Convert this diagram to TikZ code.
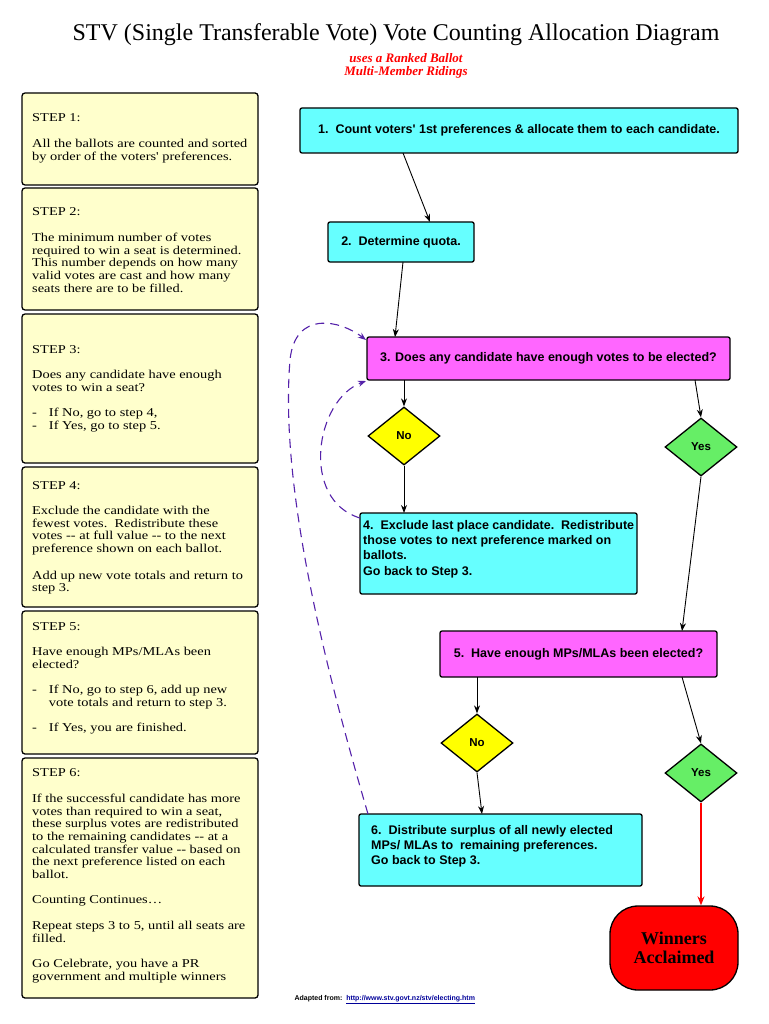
\documentclass[tikz,border=0pt]{standalone}
\usepackage{fontspec}
\setmainfont{Liberation Serif}
\newfontfamily\sansf{Liberation Sans}
\newfontfamily\widef[FakeStretch=1.2]{Liberation Serif}
\usetikzlibrary{shapes.geometric,arrows.meta}
\definecolor{cy}{HTML}{66FFFF}
\definecolor{mg}{HTML}{FF66FF}
\definecolor{yl}{HTML}{FFFF00}
\definecolor{gr}{HTML}{66EE66}
\definecolor{pale}{HTML}{FFFFCC}
\definecolor{purp}{HTML}{5522AA}
\begin{document}
\begin{tikzpicture}[x=1pt,y=-1pt,
 stepbox/.style={anchor=north west,align=left,inner sep=0pt,font=\widef\fontsize{12}{12.6}\selectfont},
 proc/.style={draw,line width=1.3pt,rounded corners=2pt,fill=cy,font=\sansf\bfseries\fontsize{12.5}{13}\selectfont},
 dec/.style={draw,line width=1.3pt,fill=mg,font=\sansf\bfseries\fontsize{12.5}{13}\selectfont},
 dia/.style={draw,line width=1.3pt,diamond,minimum width=72pt,minimum height=58pt,inner sep=0pt,aspect=1.25,font=\sansf\bfseries\fontsize{11.5}{12}\selectfont},
 arr/.style={-{Stealth[length=8pt,width=6pt]},line width=0.9pt},
 dsh/.style={-{Stealth[length=8pt,width=6pt]},line width=1.1pt,purp,dash pattern=on 9pt off 6pt}]
\useasboundingbox (0,0) rectangle (768,1024);
\node[font=\fontsize{24}{26}\selectfont] (title) at (396,35) {STV (Single Transferable Vote) Vote Counting Allocation Diagram};
\node[font=\bfseries\itshape\fontsize{13}{13.5}\selectfont,text=red,align=center] (sub) at (406,66) {uses a Ranked Ballot\\Multi-Member Ridings};

% left step boxes
\foreach \t/\b in {93/185,188/310,314/463,467/607,611/754,758/998}{
  \draw[line width=1.3pt,rounded corners=3pt,fill=pale] (22,\t) rectangle (258,\b);}
\node[stepbox] (s1) at (32,113) {STEP 1:\\[14pt]All the ballots are counted and sorted\\by order of the voters' preferences.};
\node[stepbox] (s2) at (32,207) {STEP 2:\\[14pt]The minimum number of votes\\required to win a seat is determined.\\This number depends on how many\\valid votes are cast and how many\\seats there are to be filled.};
\node[stepbox] (s3) at (32,345) {STEP 3:\\[13pt]Does any candidate have enough\\votes to win a seat?\\[13pt]-\quad If No, go to step 4,\\-\quad If Yes, go to step 5.};
\node[stepbox] (s4) at (32,481) {STEP 4:\\[13pt]Exclude the candidate with the\\fewest votes.\ \ Redistribute these\\votes -- at full value -- to the next\\preference shown on each ballot.\\[14pt]Add up new vote totals and return to\\step 3.};
\node[stepbox] (s5) at (32,622) {STEP 5:\\[13pt]Have enough MPs/MLAs been\\elected?\\[13pt]-\quad If No, go to step 6, add up new\\\phantom{-}\quad vote totals and return to step 3.\\[12pt]-\quad If Yes, you are finished.};
\node[stepbox] (s6) at (32,768) {STEP 6:\\[14pt]If the successful candidate has more\\votes than required to win a seat,\\these surplus votes are redistributed\\to the remaining candidates -- at a\\calculated transfer value -- based on\\the next preference listed on each\\ballot.\\[13pt]Counting Continues\dots\\[13pt]Repeat steps 3 to 5, until all seats are\\filled.\\[13pt]Go Celebrate, you have a PR\\government and multiple winners};

% flow
\node[proc,minimum width=438pt,minimum height=45pt] (p1) at (519,130.5) {1.\ \ Count voters' 1st preferences \& allocate them to each candidate.};
\node[proc,minimum width=146pt,minimum height=40pt] (p2) at (401,242) {2.\ \ Determine quota.};
\node[dec,rounded corners=2pt,minimum width=363pt,minimum height=43pt] (p3) at (548.5,358.5) {3. Does any candidate have enough votes to be elected?};
\node[dia,fill=yl] (no1) at (404,436) {No};
\node[dia,fill=gr] (yes1) at (701,447) {Yes};
\draw[line width=1.3pt,rounded corners=2pt,fill=cy] (360,513) rectangle (637,594);
\node[font=\sansf\bfseries\fontsize{12.5}{15.3}\selectfont,align=left,anchor=north west,inner sep=0pt] (p4) at (363,520) {4.\ \ Exclude last place candidate.\ \ Redistribute\\those votes to next preference marked on\\ballots.\\Go back to Step 3.};
\node[dec,rounded corners=2pt,minimum width=277pt,minimum height=46pt] (p5) at (578.5,654) {5.\ \ Have enough MPs/MLAs been elected?};
\node[dia,fill=yl] (no2) at (477,743) {No};
\node[dia,fill=gr] (yes2) at (701,773) {Yes};
\draw[line width=1.3pt,rounded corners=2pt,fill=cy] (359,814) rectangle (642,886);
\node[font=\sansf\bfseries\fontsize{12.5}{15}\selectfont,align=left,anchor=north west,inner sep=0pt] (p6) at (371,825) {6.\ \ Distribute surplus of all newly elected\\MPs/ MLAs to\ \ remaining preferences.\\Go back to Step 3.};
\coordinate (p4top) at (404,513);
\coordinate (p4l) at (360,518);
\coordinate (p6top) at (482,814);
\coordinate (p6tl) at (368,814);
\node[draw,line width=1.3pt,fill=red,rounded corners=28pt,minimum width=128pt,minimum height=84pt,font=\bfseries\fontsize{18}{19}\selectfont,align=center] (win) at (674,948) {Winners\\Acclaimed};
\node[anchor=west,font=\sansf\bfseries\fontsize{7}{8}\selectfont] (adapt) at (291,1000) {Adapted from:\ \ \textcolor{blue!60!black}{\underline{http://www.stv.govt.nz/stv/electing.htm}}};

\draw[arr] (403,153) -- (430,222);
\draw[arr] (403,262) -- (395,337);
\draw[arr] (404,380) -- (no1.north);
\draw[arr] (no1.south) -- (p4top);
\draw[arr] (695,380) -- (yes1.north);
\draw[arr] (yes1.south) -- (682,631);
\draw[arr] (477,677) -- (no2.north);
\draw[arr] (no2.south) -- (p6top);
\draw[arr] (682,677) -- (yes2.north);
\draw[-{Stealth[length=9pt,width=7pt]},line width=2pt,red] (yes2.south) -- (win.north -| yes2.south);
\draw[dsh] (p4l) .. controls (300,500) and (315,400) .. (366,381);
\draw[dsh] (p6tl) .. controls (320,650) and (280,480) .. (290,360) .. controls (295,310) and (340,320) .. (366,340);
\end{tikzpicture}
\end{document}
